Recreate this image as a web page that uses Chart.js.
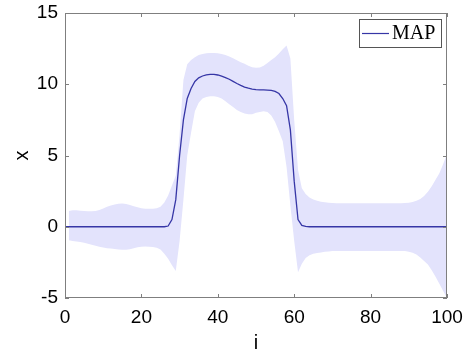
<!DOCTYPE html>
<html>
<head>
<meta charset="utf-8">
<script src="https://cdn.jsdelivr.net/npm/chart.js@4.4.1/dist/chart.umd.min.js"></script>
<style>
  html, body { margin: 0; padding: 0; background: #fff; }
  #wrap { width: 474px; height: 355px; }
</style>
</head>
<body>
<div id="wrap"><canvas id="c" width="474" height="355"></canvas></div>
<script>
// sample index i = 0..100
const iVals = Array.from({ length: 101 }, (_, k) => k);

// MAP estimate, i = 0..100
const mapVals = [
  0, 0, 0, 0, 0, 0, 0, 0, 0, 0,                // 0-9
  0, 0, 0, 0, 0, 0, 0, 0, 0, 0,                // 10-19
  0, 0, 0, 0, 0, 0, 0, 0.05, 0.5, 1.9,         // 20-29
  5.0, 7.5, 9.0, 9.7, 10.2, 10.45, 10.58, 10.66, 10.7, 10.7,      // 30-39
  10.65, 10.57, 10.47, 10.35, 10.2, 10.05, 9.92, 9.8, 9.72, 9.66, // 40-49
  9.62, 9.6, 9.6, 9.59, 9.57, 9.5, 9.35, 9.0, 8.5, 6.8,           // 50-59
  3.2, 0.5, 0.1, 0.02, 0, 0, 0, 0, 0, 0,       // 60-69
  0, 0, 0, 0, 0, 0, 0, 0, 0, 0,                // 70-79
  0, 0, 0, 0, 0, 0, 0, 0, 0, 0,                // 80-89
  0, 0, 0, 0, 0, 0, 0, 0, 0, 0,                // 90-99
  0                                            // 100
];

// upper edge of the shaded band (no value at i = 0)
const bandUpper = [
  null, 1.1, 1.15, 1.15, 1.12, 1.1, 1.08, 1.08, 1.1, 1.18,        // 0-9
  1.28, 1.4, 1.5, 1.57, 1.62, 1.63, 1.6, 1.52, 1.43, 1.36,        // 10-19
  1.3, 1.27, 1.26, 1.27, 1.3, 1.4, 1.7, 2.2, 2.9, 3.6,            // 20-29
  6.5, 10.3, 11.4, 11.7, 11.9, 12.05, 12.12, 12.17, 12.2, 12.2,   // 30-39
  12.18, 12.12, 12.05, 11.95, 11.82, 11.68, 11.55, 11.43, 11.3, 11.2, // 40-49
  11.15, 11.18, 11.3, 11.5, 11.7, 11.9, 12.15, 12.45, 12.72, 11.8,    // 50-59
  7.5, 4.0, 2.7, 2.3, 2.05, 1.92, 1.83, 1.76, 1.72, 1.69,         // 60-69
  1.67, 1.65, 1.65, 1.65, 1.65, 1.65, 1.65, 1.65, 1.65, 1.65,     // 70-79
  1.65, 1.65, 1.65, 1.65, 1.65, 1.65, 1.65, 1.65, 1.65, 1.66,     // 80-89
  1.69, 1.74, 1.82, 1.95, 2.15, 2.45, 2.85, 3.3, 3.75, 4.4,       // 90-99
  5.1                                                            // 100
];

// lower edge of the shaded band
const bandLower = [
  null, -0.95, -1.0, -1.03, -1.07, -1.12, -1.2, -1.27, -1.33, -1.4,   // 0-9
  -1.45, -1.5, -1.53, -1.57, -1.6, -1.62, -1.62, -1.58, -1.5, -1.43,  // 10-19
  -1.4, -1.38, -1.4, -1.42, -1.47, -1.6, -1.9, -2.25, -2.7, -3.1,     // 20-29
  -1.0, 1.9, 5.0, 6.6, 8.1, 8.7, 9.0, 9.1, 9.15, 9.15,                // 30-39
  9.1, 9.0, 8.8, 8.6, 8.4, 8.2, 8.05, 7.95, 7.9, 7.9,                 // 40-49
  8.0, 8.05, 8.1, 8.05, 7.8, 7.35, 6.7, 6.0, 4.2, 1.5,                // 50-59
  -1.0, -3.2, -2.6, -2.2, -2.0, -1.9, -1.85, -1.8, -1.76, -1.73,      // 60-69
  -1.7, -1.7, -1.7, -1.7, -1.7, -1.7, -1.7, -1.7, -1.7, -1.7,         // 70-79
  -1.7, -1.7, -1.7, -1.7, -1.7, -1.7, -1.7, -1.7, -1.7, -1.7,         // 80-89
  -1.75, -1.82, -1.95, -2.15, -2.4, -2.65, -3.05, -3.5, -4.0, -4.5,   // 90-99
  -5.0                                                                // 100
];

const xTicks = [0, 20, 40, 60, 80, 100];
const yTicks = [-5, 0, 5, 10, 15];

const lineColor = "#3636a6";
const bandColor = "#e3e3fc";
const boxColor = "#7f7f7f";

const toPts = arr => arr.map((v, k) => ({ x: iVals[k], y: v }));

// box round the axes and inward tick marks, like the MATLAB look
const boxPlugin = {
  id: "box",
  afterDatasetsDraw(chart) {
    const { ctx, chartArea: a, scales } = chart;
    ctx.save();
    ctx.strokeStyle = boxColor;
    ctx.lineWidth = 1;
    ctx.strokeRect(a.left + 0.5, a.top + 0.5, a.right - a.left - 1, a.bottom - a.top - 1);
    ctx.beginPath();
    xTicks.forEach(t => {
      const px = Math.round(scales.x.getPixelForValue(t)) + 0.5;
      ctx.moveTo(px, a.bottom); ctx.lineTo(px, a.bottom - 4);
      ctx.moveTo(px, a.top); ctx.lineTo(px, a.top + 4);
    });
    yTicks.forEach(t => {
      const py = Math.round(scales.y.getPixelForValue(t)) + 0.5;
      ctx.moveTo(a.left, py); ctx.lineTo(a.left + 4, py);
      ctx.moveTo(a.right, py); ctx.lineTo(a.right - 4, py);
    });
    ctx.stroke();

    // legend box, top right
    const lx = a.right - 88, ly = a.top + 6, lw = 82, lh = 28;
    ctx.fillStyle = "#fff";
    ctx.fillRect(lx, ly, lw, lh);
    ctx.strokeStyle = "#555";
    ctx.strokeRect(lx + 0.5, ly + 0.5, lw, lh);
    ctx.strokeStyle = lineColor;
    ctx.lineWidth = 1.2;
    ctx.beginPath();
    ctx.moveTo(lx + 3, ly + 14.5); ctx.lineTo(lx + 30, ly + 14.5);
    ctx.stroke();
    ctx.fillStyle = "#000";
    ctx.font = "20px 'Liberation Serif'";
    ctx.textBaseline = "alphabetic";
    ctx.fillText(chart.data.datasets[0].label, lx + 33, ly + 20);
    ctx.restore();
  }
};

new Chart(document.getElementById("c"), {
  type: "line",
  data: {
    datasets: [
      { label: "MAP", data: toPts(mapVals), borderColor: lineColor, borderWidth: 1.3,
        pointRadius: 0, fill: false, order: 0 },
      { label: "upper", data: toPts(bandUpper), borderWidth: 0, borderColor: "rgba(0,0,0,0)",
        backgroundColor: bandColor, pointRadius: 0, fill: "+1", order: 1 },
      { label: "lower", data: toPts(bandLower), borderWidth: 0, borderColor: "rgba(0,0,0,0)",
        pointRadius: 0, fill: false, order: 1 }
    ]
  },
  options: {
    responsive: false,
    animation: false,
    layout: { padding: { top: 13, right: 27, left: 0, bottom: 0 } },
    plugins: { legend: { display: false }, tooltip: { enabled: false } },
    scales: {
      x: {
        type: "linear", min: 0, max: 100,
        afterBuildTicks: s => { s.ticks = xTicks.map(v => ({ value: v })); },
        afterFit: s => { s.height = 57; s.paddingLeft = 0; s.paddingRight = 0; },
        grid: { display: false, drawTicks: false },
        border: { display: false },
        ticks: { color: "#000", padding: 8, maxRotation: 0,
          font: { family: "'Liberation Sans'", size: 19 } },
        title: { display: true, text: "i", color: "#000", padding: 0,
          font: { family: "'Liberation Sans'", size: 20 } }
      },
      y: {
        type: "linear", min: -5, max: 15,
        afterBuildTicks: s => { s.ticks = yTicks.map(v => ({ value: v })); },
        afterFit: s => { s.width = 65; s.paddingTop = 0; s.paddingBottom = 0; },
        grid: { display: false, drawTicks: false },
        border: { display: false },
        ticks: { color: "#000", padding: 7,
          font: { family: "'Liberation Sans'", size: 19 } },
        title: { display: true, text: "x", color: "#000", padding: { top: 10, bottom: 0 },
          font: { family: "'Liberation Sans'", size: 20 } }
      }
    }
  },
  plugins: [boxPlugin]
});
</script>
</body>
</html>
